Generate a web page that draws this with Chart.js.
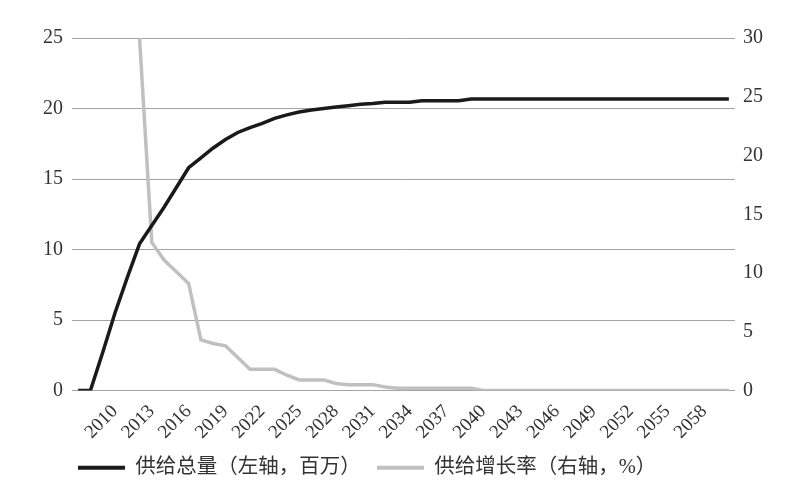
<!DOCTYPE html>
<html>
<head>
<meta charset="utf-8">
<script src="https://cdn.jsdelivr.net/npm/chart.js@4.4.1/dist/chart.umd.min.js"></script>
<style>
  html, body { margin: 0; padding: 0; background: #fff; }
  #wrap { width: 800px; height: 496px; }
</style>
</head>
<body>
<div id="wrap"><canvas id="chart" width="800" height="496"></canvas></div>
<script>
// ── DATA ─────────────────────────────────────────────────────────
const years = [
  '2007', '2008', '2009', '2010', '2011', '2012', '2013', '2014', '2015', '2016',
  '2017', '2018', '2019', '2020', '2021', '2022', '2023', '2024', '2025', '2026',
  '2027', '2028', '2029', '2030', '2031', '2032', '2033', '2034', '2035', '2036',
  '2037', '2038', '2039', '2040', '2041', '2042', '2043', '2044', '2045', '2046',
  '2047', '2048', '2049', '2050', '2051', '2052', '2053', '2054', '2055', '2056',
  '2057', '2058', '2059', '2060'
];
const tickYears = ['2010', '2013', '2016', '2019', '2022', '2025', '2028', '2031', '2034',
  '2037', '2040', '2043', '2046', '2049', '2052', '2055', '2058'];

// 供给总量（左轴，百万）
const supplyTotal = [
  0, 0, 2.7, 5.5, 8.0, 10.4, 11.7, 13.0, 14.4, 15.8,
  16.5, 17.2, 17.8, 18.3, 18.65, 18.95, 19.3, 19.55, 19.75, 19.9,
  20.0, 20.1, 20.2, 20.3, 20.35, 20.45, 20.45, 20.45, 20.55, 20.55,
  20.55, 20.55, 20.67, 20.67, 20.67, 20.67, 20.67, 20.67, 20.67, 20.67,
  20.67, 20.67, 20.67, 20.67, 20.67, 20.67, 20.67, 20.67, 20.67, 20.67,
  20.67, 20.67, 20.67, 20.67
];
// 供给增长率（右轴，%）
const supplyGrowth = [
  null, null, null, null, null, 30, 12.6, 11.1, 10.1, 9.1,
  4.3, 4.0, 3.8, 2.8, 1.8, 1.8, 1.8, 1.3, 0.9, 0.9,
  0.9, 0.6, 0.5, 0.5, 0.5, 0.3, 0.2, 0.2, 0.2, 0.2,
  0.2, 0.2, 0.2, 0, 0, 0, 0, 0, 0, 0,
  0, 0, 0, 0, 0, 0, 0, 0, 0, 0,
  0, 0, 0, 0
];

const seriesNames = ['供给总量（左轴，百万）', '供给增长率（右轴，%）'];
const seriesColors = ['#1a1a1a', '#c0c0c0'];

// ── STYLE ────────────────────────────────────────────────────────
const serif = "'Liberation Serif', 'Noto Sans CJK SC', serif";
const textColor = '#333';

// ── CHART ────────────────────────────────────────────────────────
new Chart(document.getElementById('chart'), {
  type: 'line',
  data: {
    labels: years,
    datasets: [{
      label: seriesNames[0],
      data: supplyTotal,
      yAxisID: 'y',
      borderColor: seriesColors[0],
      backgroundColor: seriesColors[0],
      borderWidth: 3.5,
      pointRadius: 0,
      tension: 0,
    }, {
      label: seriesNames[1],
      data: supplyGrowth,
      yAxisID: 'y1',
      borderColor: seriesColors[1],
      backgroundColor: seriesColors[1],
      borderWidth: 3.5,
      pointRadius: 0,
      tension: 0,
    }],
  },
  options: {
    responsive: false,
    animation: false,
    layout: { padding: { top: 38, left: 0, right: 0, bottom: 8 } },
    plugins: {
      tooltip: { enabled: false },
      legend: {
        position: 'bottom',
        align: 'start',
        fullSize: false,
        labels: {
          boxWidth: 47,
          boxHeight: 4,
          padding: 6,
          color: textColor,
          font: { family: serif, size: 20.5 },
          // trailing ideographic space keeps the gap between the two entries
          generateLabels: chart => chart.data.datasets.map((ds, i) => ({
            text: i === 0 ? ds.label + '\u3000' : ds.label,
            fillStyle: seriesColors[i],
            strokeStyle: seriesColors[i],
            lineWidth: 0,
            fontColor: textColor,
            datasetIndex: i,
          })),
        },
      },
    },
    scales: {
      x: {
        offset: true,
        grid: { display: false },
        border: { display: false },
        ticks: {
          autoSkip: false,
          maxRotation: 45,
          minRotation: 45,
          padding: 2,
          color: textColor,
          font: { family: serif, size: 19 },
          callback: (v, i) => tickYears.includes(years[i]) ? years[i] : '',
        },
        afterFit: s => { s.height = 61; },
      },
      y: {
        position: 'left',
        min: 0,
        max: 25,
        grid: { color: '#a3a3a3', lineWidth: 1, drawTicks: false },
        border: { display: false },
        ticks: { stepSize: 5, padding: 9, color: textColor, font: { family: serif, size: 20 } },
        afterFit: s => { s.width = 72; },
      },
      y1: {
        position: 'right',
        min: 0,
        max: 30,
        grid: { display: false, drawTicks: false },
        border: { display: false },
        ticks: { stepSize: 5, padding: 8, color: textColor, font: { family: serif, size: 20 } },
        afterFit: s => { s.width = 65; },
      },
    },
  },
});
</script>
</body>
</html>
